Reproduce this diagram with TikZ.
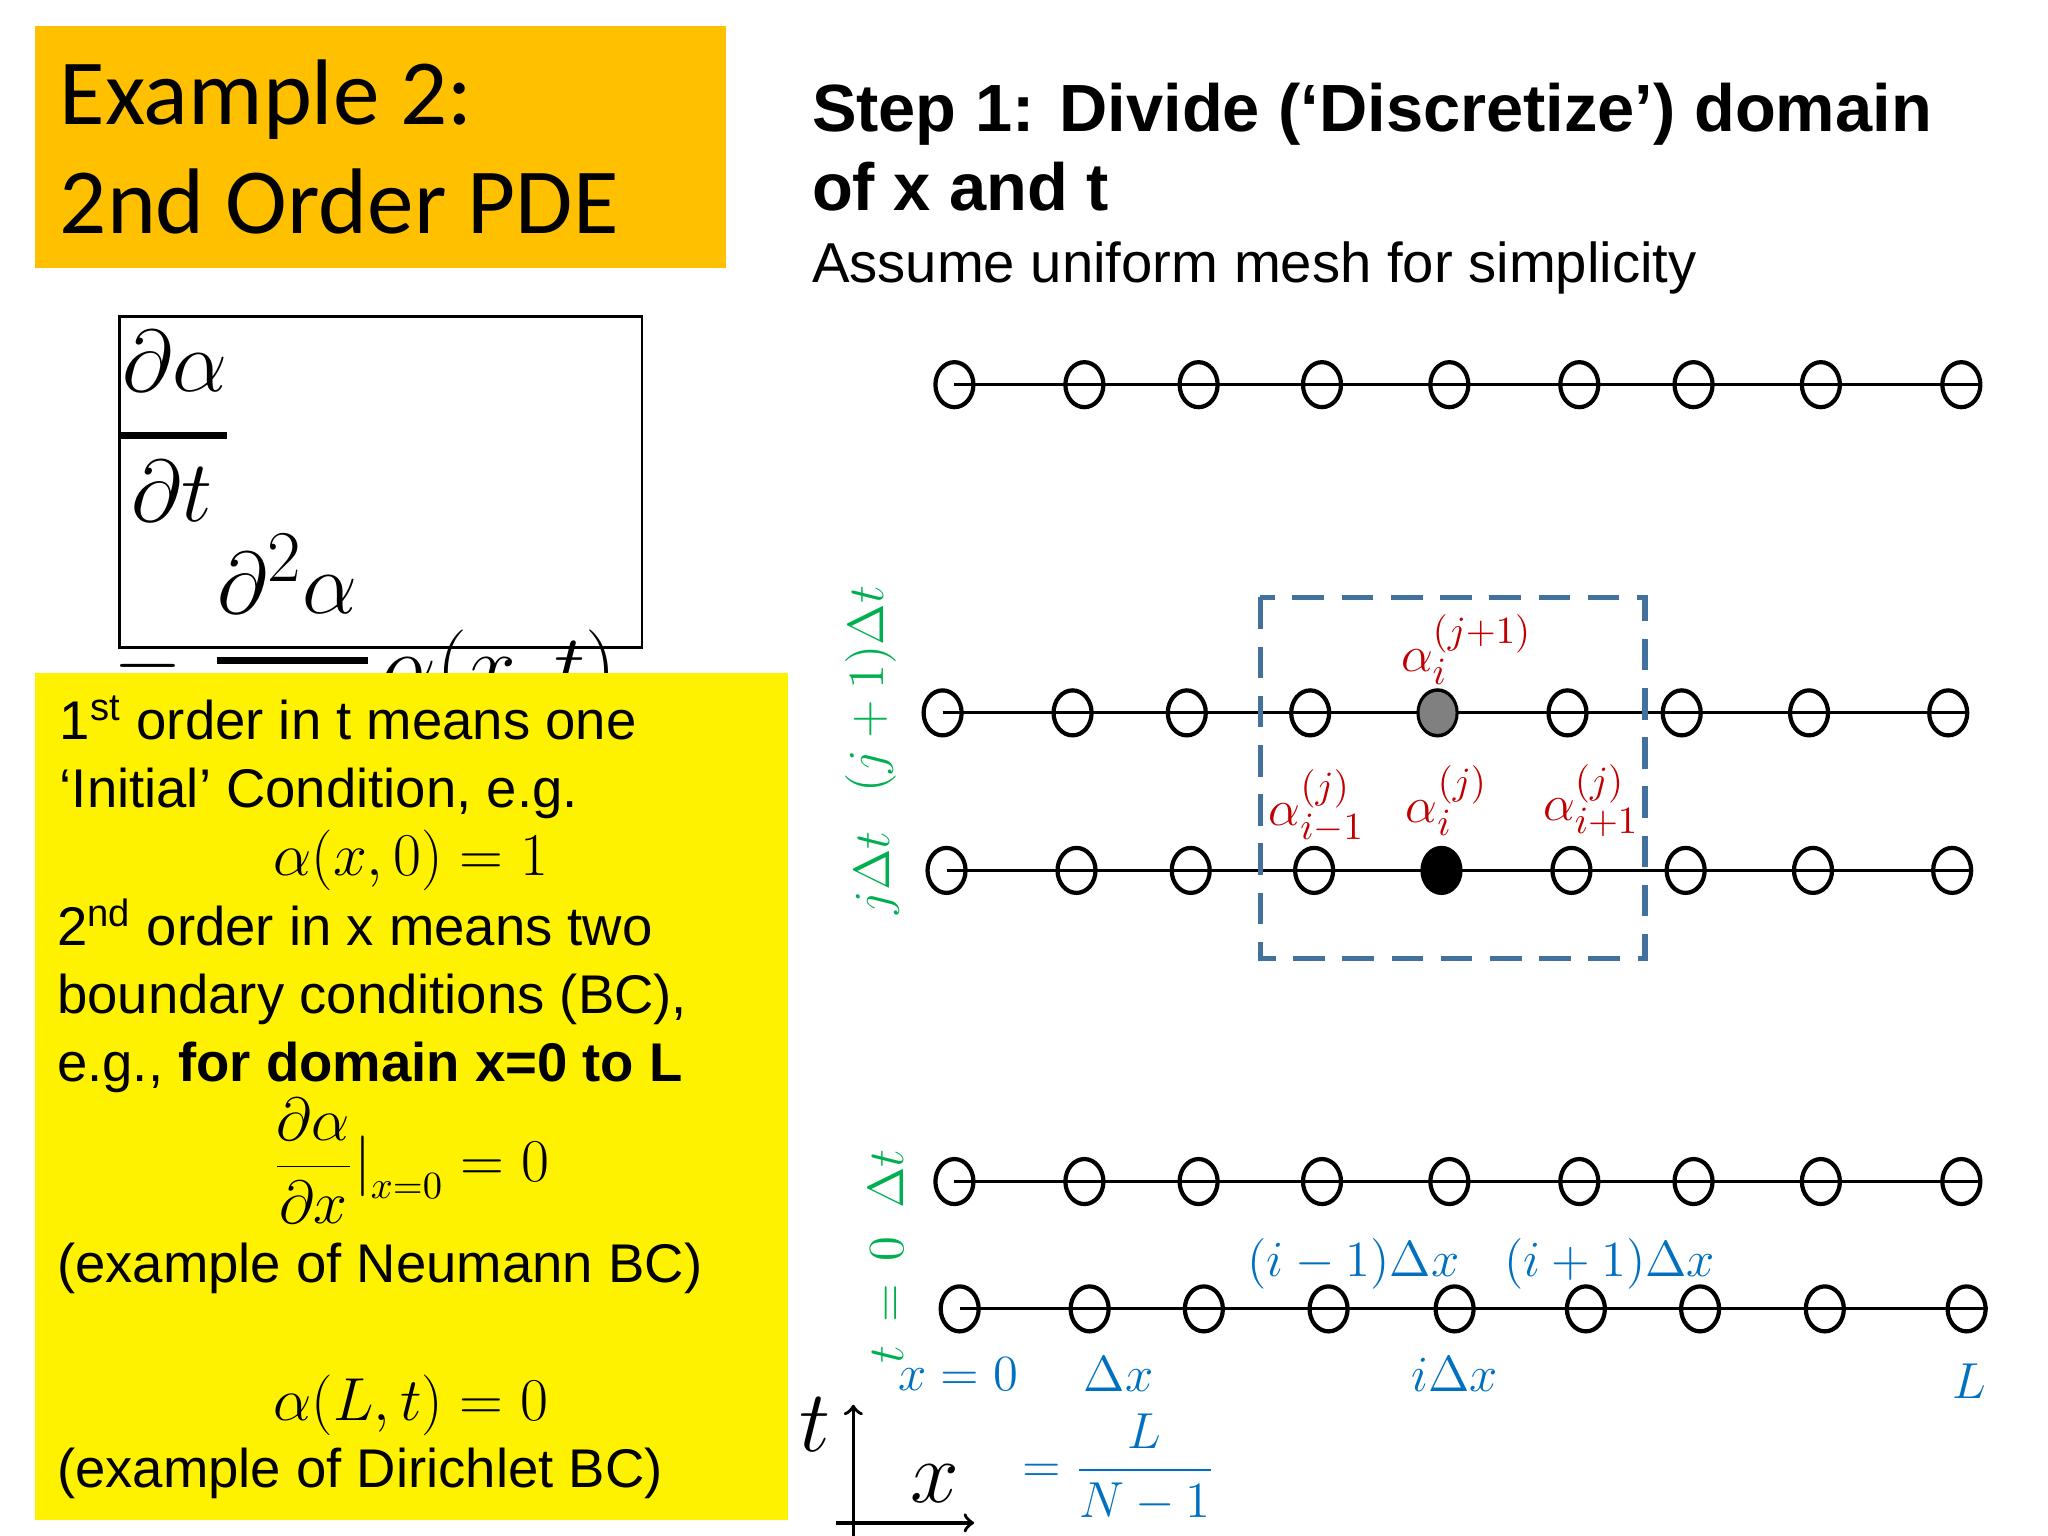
\documentclass[tikz,border=0pt]{standalone}
\usepackage{fontspec}
\setmainfont{Liberation Sans}
\newfontfamily\carl{Carlito}
\usetikzlibrary{shapes.geometric}
\definecolor{orangeB}{HTML}{FFC000}
\definecolor{redL}{HTML}{C00000}
\definecolor{greenL}{HTML}{00B050}
\definecolor{blueL}{HTML}{0070C0}
\definecolor{dashB}{HTML}{41719C}
\tikzset{
 pt/.style={ellipse,draw,line width=1.2pt,minimum width=0.38cm,minimum height=0.45cm,inner sep=0pt},
 txt/.style={anchor=base west,inner sep=0pt,font=\fontsize{15.5pt}{18pt}\selectfont},
 rl/.style={text=redL,inner sep=0pt,font=\fontsize{15pt}{18pt}\selectfont},
 bl/.style={text=blueL,inner sep=0pt,font=\fontsize{15pt}{18pt}\selectfont},
 gl/.style={text=greenL,inner sep=0pt,rotate=90,font=\fontsize{15pt}{18pt}\selectfont},
 mth/.style={inner sep=0pt,font=\fontsize{16pt}{19pt}\selectfont}
}
\begin{document}
\begin{tikzpicture}[x=0.013128cm,y=-0.013128cm]
\useasboundingbox (0,0) rectangle (1560,1170);
% title
\fill[orangeB] (27,20) rectangle (553,204);
\node[anchor=base west,inner sep=0pt,font=\carl\fontsize{26.5pt}{32pt}\selectfont] (t1) at (45,95) {Example 2:};
\node[anchor=base west,inner sep=0pt,font=\carl\fontsize{26.5pt}{32pt}\selectfont] (t2) at (45,178) {2nd Order PDE};
% equation box
\draw[line width=0.8pt] (91,241) rectangle (489,493);
\node[anchor=base west,inner sep=0pt,font=\fontsize{30pt}{34pt}\selectfont] (e1) at (93,298) {$\partial\alpha$};
\draw[line width=2pt] (92,332) -- (173,332);
\node[anchor=base west,inner sep=0pt,font=\fontsize{30pt}{34pt}\selectfont] (e2) at (100,397) {$\partial t$};
\node[anchor=base west,inner sep=0pt,font=\fontsize{30pt}{34pt}\selectfont] (e3) at (165,467) {$\partial^2\alpha$};
\node[anchor=base west,inner sep=0pt,font=\fontsize{30pt}{34pt}\selectfont] (e4) at (88,530) {$=$};
\draw[line width=2pt] (165,503) -- (280,503);
\node[anchor=base west,inner sep=0pt,font=\fontsize{30pt}{34pt}\selectfont] (e5) at (290,530) {$\alpha(x,t)$};
% yellow box
\fill[yellow] (27,513) rectangle (600,1158);
\node[txt] (y1) at (45,563) {1\textsuperscript{st} order in t means one};
\node[txt] (y2) at (45,615) {‘Initial’ Condition, e.g.};
\node[mth,anchor=base] (y3) at (313,667) {$\alpha(x,0)=1$};
\node[txt] (y4) at (43,720) {2\textsuperscript{nd} order in x means two};
\node[txt] (y5) at (43,772) {boundary conditions (BC),};
\node[txt] (y6) at (43,824) {e.g., \textbf{for domain x=0 to L}};
\node[mth,anchor=base] (y7) at (313,900) {$\displaystyle\frac{\partial\alpha}{\partial x}\Big|_{x=0}=0$};
\node[txt] (y8) at (43,977) {(example of Neumann BC)};
\node[mth,anchor=base] (y9) at (313,1082) {$\alpha(L,t)=0$};
\node[txt] (y10) at (43,1133) {(example of Dirichlet BC)};
% step text
\node[anchor=base west,inner sep=0pt,font=\bfseries\fontsize{19pt}{23pt}\selectfont] (s1) at (618,100) {Step 1: Divide (‘Discretize’) domain};
\node[anchor=base west,inner sep=0pt,font=\bfseries\fontsize{19pt}{23pt}\selectfont] (s2) at (618,160) {of x and t};
\node[anchor=base west,inner sep=0pt,font=\fontsize{16pt}{19pt}\selectfont] (s3) at (618,215) {Assume uniform mesh for simplicity};
% grid
\foreach \r/\y/\xs in {a/293/{727,826,913,1007,1104,1203,1290,1387,1494},
  b/543/{718,817,904,998,1095,1194,1281,1378,1484},
  c/663/{721,820,907,1001,1098,1197,1284,1381,1487},
  d/900/{727,826,913,1007,1104,1203,1290,1387,1494},
  e/997/{731,830,917,1012,1108,1208,1295,1390,1498}}{
  \foreach \x [count=\k] in \xs { \node[pt] (\r\k) at (\x,\y) {}; }
  \draw[line width=0.8pt] (\r1.center) -- (\r9.east);
}
\fill[gray] (b5) ellipse (0.18cm and 0.21cm);
\fill[black] (c5) ellipse (0.18cm and 0.21cm);
\draw[dashB,dashed,line width=1.6pt,dash pattern=on 9pt off 5pt] (960,455) rectangle (1253,730);
% red labels
\node[rl] (la) at (1117,495) {$\alpha_i^{(j+1)}$};
\node[rl] (lb) at (1003,614) {$\alpha_{i-1}^{(j)}$};
\node[rl] (lc) at (1102,610) {$\alpha_i^{(j)}$};
\node[rl] (ld) at (1212,610) {$\alpha_{i+1}^{(j)}$};
% green
\node[gl] (g1) at (663,525) {$(j+1)\Delta t$};
\node[gl] (g2) at (668,665) {$j\Delta t$};
\node[gl] (g3) at (675,957) {$t\,=\,0\;\;\Delta t$};
% blue
\node[bl] (b1) at (1031,963) {$(i-1)\Delta x$};
\node[bl] (b2) at (1226,963) {$(i+1)\Delta x$};
\node[bl] (b3) at (730,1047) {$x=0$};
\node[bl] (b4) at (852,1047) {$\Delta x$};
\node[bl] (b5) at (1108,1047) {$i\Delta x$};
\node[bl] (b6) at (1500,1052) {$L$};
\node[bl] (b7) at (852,1118) {$=\displaystyle\frac{L}{N-1}$};
% axes
\coordinate (ot) at (650,1070);
\coordinate (ox) at (742,1160);
\coordinate (ob) at (650,1172);
\coordinate (ol) at (637,1160);
\draw[line width=1pt,->] (ob) -- (ot);
\draw[line width=1pt,->] (ol) -- (ox);
\node[inner sep=0pt,font=\fontsize{26pt}{30pt}\selectfont] (tl) at (621,1085) {$t$};
\node[inner sep=0pt,font=\fontsize{26pt}{30pt}\selectfont] (xl) at (712,1130) {$x$};
\end{tikzpicture}
\end{document}
